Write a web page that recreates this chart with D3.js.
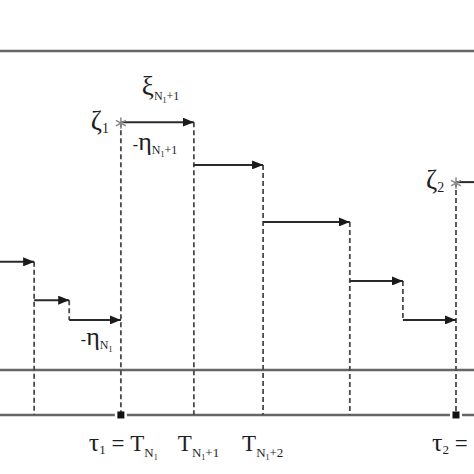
<!DOCTYPE html>
<html>
<head>
<meta charset="utf-8">
<script src="https://cdn.jsdelivr.net/npm/d3@7"></script>
<style>
  body { margin: 0; background: #fff; }
  text { font-family: "Liberation Serif", "DejaVu Serif", serif; fill: #1e1e1e; }
</style>
</head>
<body>
<script>
// step process: level before the first jump, then level after each jump
var jumpTimes = [7.2, 14.6, 25.5, 40.9, 55.5, 73.8, 85.0, 96.2];
var levels = [33.9, 21.9, 15.7, 77.7, 64.3, 46.4, 27.9, 15.7, 58.9];
// which jumps get a dashed guide down to the time axis
var reachesAxis = [true, false, true, true, true, true, false, true];
// renewal times tau_1, tau_2 (star + dot)
var restartTimes = [25.5, 96.2];
var refLevels = [100, 0];      // the two horizontal reference lines
var timeAxisLevel = -14.1;     // level of the time axis

var width = 474, height = 474;

var x = d3.scaleLinear().domain([0, 100]).range([0, width]);
var y = d3.scaleLinear().domain([0, 100]).range([370, 51]);

var svg = d3.select("body").append("svg")
    .attr("width", width)
    .attr("height", height);

svg.append("defs").append("marker")
    .attr("id", "arrow")
    .attr("markerUnits", "userSpaceOnUse")
    .attr("markerWidth", 11).attr("markerHeight", 9)
    .attr("refX", 11).attr("refY", 4.5)
    .attr("orient", "auto")
  .append("path")
    .attr("d", "M0,0L11,4.5L0,9Z")
    .style("fill", "#1a1a1a");

// reference lines + time axis
svg.selectAll("line.ref")
    .data(refLevels.concat([timeAxisLevel]))
  .enter().append("line")
    .attr("class", "ref")
    .attr("x1", 0).attr("x2", width)
    .attr("y1", function(d) { return y(d); })
    .attr("y2", function(d) { return y(d); })
    .style("stroke", "#666")
    .style("stroke-width", 2.5);

// dashed guides at the jumps
svg.selectAll("line.guide")
    .data(jumpTimes)
  .enter().append("line")
    .attr("class", "guide")
    .attr("x1", function(d) { return x(d); })
    .attr("x2", function(d) { return x(d); })
    .attr("y1", function(d, i) { return y(Math.max(levels[i], levels[i + 1])); })
    .attr("y2", function(d, i) {
      return reachesAxis[i] ? y(timeAxisLevel) : y(Math.min(levels[i], levels[i + 1]));
    })
    .style("stroke", "#4a4a4a")
    .style("stroke-width", 1.8)
    .style("stroke-dasharray", "5,3");

// horizontal arrows for each level
var starts = [0].concat(jumpTimes);
var ends = jumpTimes.concat([100]);

svg.selectAll("line.step")
    .data(levels)
  .enter().append("line")
    .attr("class", "step")
    .attr("x1", function(d, i) { return x(starts[i]); })
    .attr("x2", function(d, i) { return x(ends[i]); })
    .attr("y1", function(d) { return y(d); })
    .attr("y2", function(d) { return y(d); })
    .style("stroke", "#2a2a2a")
    .style("stroke-width", 2)
    .attr("marker-end", function(d, i) { return i < levels.length - 1 ? "url(#arrow)" : null; });

// stars at the renewal points
svg.selectAll("path.star")
    .data(restartTimes)
  .enter().append("path")
    .attr("class", "star")
    .attr("transform", function(d) {
      var i = jumpTimes.indexOf(d);
      return "translate(" + x(d) + "," + (y(levels[i + 1]) + 1) + ")";
    })
    .attr("d", d3.symbol(d3.symbolAsterisk, 90))
    .style("fill", "none")
    .style("stroke", "#888")
    .style("stroke-width", 1.5);

// dots on the time axis
var dots = svg.selectAll("g.dot")
    .data(restartTimes)
  .enter().append("g")
    .attr("class", "dot")
    .attr("transform", function(d) { return "translate(" + x(d) + "," + y(timeAxisLevel) + ")"; });
dots.append("rect")
    .attr("x", -6).attr("y", -3).attr("width", 12).attr("height", 6)
    .style("fill", "#fff");
dots.append("rect")
    .attr("x", -3.5).attr("y", -3.5).attr("width", 7).attr("height", 7)
    .style("fill", "#111");

// labels
function label(px, py, size, parts, anchor) {
  var t = svg.append("text")
      .attr("x", px).attr("y", py)
      .attr("font-size", size)
      .attr("text-anchor", anchor || "start");
  parts.forEach(function(p) {
    t.append("tspan")
      .attr("dy", p.dy || 0)
      .attr("font-size", p.size || size)
      .text(p.t);
  });
}

var t1 = restartTimes[0], t2 = restartTimes[1];
var k1 = jumpTimes.indexOf(t1), k2 = jumpTimes.indexOf(t2);

label(x(t1) + 21, y(levels[k1 + 1]) - 27, 27,
  [{t: "ξ"}, {t: "N", size: 12, dy: 5}, {t: "1", size: 8, dy: 3}, {t: "+1", size: 12, dy: -3}]);
label(x(t1) + 12, y(levels[k1 + 1]) + 28, 26,
  [{t: "-", size: 16}, {t: "η"}, {t: "N", size: 12, dy: 4}, {t: "1", size: 8, dy: 3}, {t: "+1", size: 12, dy: -3}]);
label(x(t1) - 30, y(levels[k1 + 1]) + 8, 27,
  [{t: "ζ"}, {t: "1", size: 14, dy: 3}]);
label(x(t2) - 30, y(levels[k2 + 1]) + 7, 27,
  [{t: "ζ"}, {t: "2", size: 14, dy: 3}]);
label(x(t1) - 40, y(levels[k1]) + 25, 26,
  [{t: "-", size: 16}, {t: "η"}, {t: "N", size: 12, dy: 4}, {t: "1", size: 8, dy: 3}]);

var by = y(timeAxisLevel) + 36;
label(x(t1) - 32, by, 23,
  [{t: "τ", size: 26}, {t: "1", size: 13, dy: 3}, {t: " = ", dy: -3}, {t: "T"}, {t: "N", size: 13, dy: 6}, {t: "1", size: 8, dy: 3}]);
label(x(jumpTimes[k1 + 1]) - 16, by, 23,
  [{t: "T"}, {t: "N", size: 13, dy: 6}, {t: "1", size: 8, dy: 3}, {t: "+1", size: 13, dy: -3}]);
label(x(jumpTimes[k1 + 2]) - 21, by, 23,
  [{t: "T"}, {t: "N", size: 13, dy: 6}, {t: "1", size: 8, dy: 3}, {t: "+2", size: 13, dy: -3}]);
label(x(t2) - 24, by, 23,
  [{t: "τ", size: 26}, {t: "2", size: 13, dy: 3}, {t: " =", dy: -3}]);
</script>
</body>
</html>
